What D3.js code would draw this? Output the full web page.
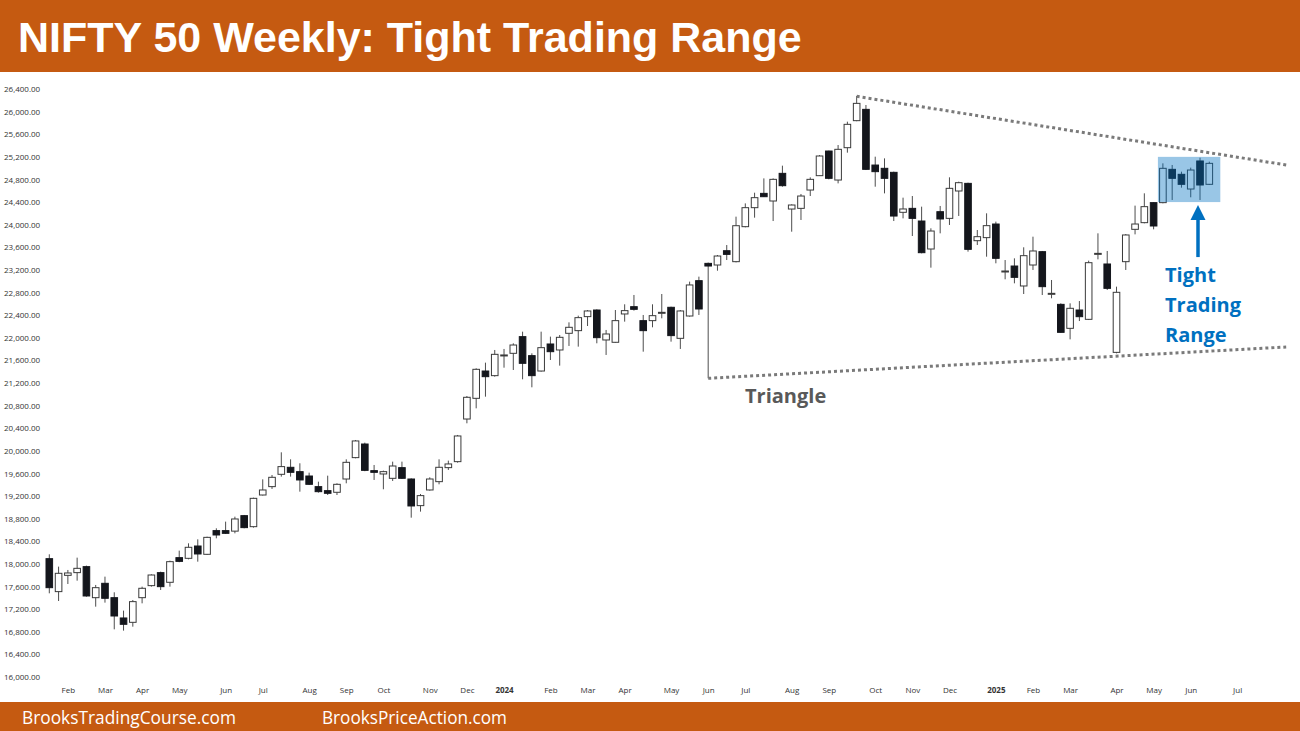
<!DOCTYPE html>
<html>
<head>
<meta charset="utf-8">
<script src="https://cdn.jsdelivr.net/npm/d3@7"></script>
<style>
  body { margin: 0; background: #fff; }
  svg { display: block; }
</style>
</head>
<body>
<div class="chart-container"></div>
<script>
// weekly candles, first bar = week of 23 Jan 2023
const first_week = '2023-01-23';
const opens = [
  18093,17510,17798,17846,17952,17403,17657,17403,17044,16967,17403,17616,17846,17675,18111,18099,18317,18170,18589,18589,
  18580,18854,18659,19219,19367,19585,19709,19632,19555,19367,19296,19267,19502,19880,20121,19650,19591,19514,19703,19502,
  19031,19308,19455,19703,19809,20563,20929,21412,21330,21684,21725,22020,21684,21412,21890,21784,22079,22126,22374,22491,
  21961,21920,22421,22550,22303,22303,22438,22539,21990,22385,23010,23316,23287,23540,23346,23965,24301,24554,24419,24908,
  24277,24289,24613,24867,25303,24790,25362,25840,26040,25055,24997,24926,24219,24289,24065,23570,24230,24112,24596,24731,
  23717,23771,24012,23169,23269,22916,23287,23523,22774,22591,22167,22491,22326,23482,23305,21742,23346,23918,24036,24390,
  24390,24979,24891,24631,25127,24714
];
const highs = [
  18170,17952,17893,18111,17970,17628,17775,17498,17174,17362,17598,17816,17863,18058,18235,18364,18435,18482,18630,18748,
  18836,18866,19172,19496,19573,19974,19850,19780,19614,19455,19561,19426,19850,20192,20145,19750,19650,19809,19809,19514,
  19237,19532,19850,19827,20281,20970,21460,21560,21784,21802,21902,22108,21725,22108,22020,22049,22273,22391,22491,22503,
  22138,22491,22592,22757,22403,22592,22774,22550,22491,22993,23081,23330,23464,23640,24142,24377,24566,24819,24819,25044,
  24360,24543,24837,25232,25309,25409,25822,26276,26117,25203,25173,24938,24478,24507,24319,23936,24331,24838,24761,24743,
  23906,24201,24054,23375,23405,23600,23788,23535,23022,22609,22609,22650,23364,23847,23535,22904,23835,24337,24555,24396,
  25085,25056,24938,25009,25185,25115
];
const lows = [
  17480,17344,17645,17704,17420,17244,17315,16843,16820,16890,17303,17598,17539,17598,18030,18081,18040,18160,18453,18530,
  18541,18630,18642,19210,19326,19544,19544,19278,19396,19261,19219,19219,19426,19868,19640,19485,19320,19467,19502,18818,
  18925,19296,19408,19662,19791,20487,20752,20958,21312,21471,21430,21265,21124,21401,21607,21507,21855,21843,22208,21902,
  21696,21914,22285,22480,21754,22185,22344,21931,21802,22374,22403,21283,23186,23375,23334,23953,24124,24490,24065,24672,
  23876,24083,24507,24861,24802,24731,25274,25830,24967,24672,24554,24065,24112,23800,23493,23240,23847,23995,24154,23523,
  23641,23434,23317,23034,22963,22774,23199,22756,22698,22090,21972,22296,22314,23387,22845,21725,23199,23829,24024,23918,
  24378,24437,24655,24484,24437,24702
];
const closes = [
  17580,17834,17840,17922,17433,17580,17392,17079,16932,17333,17569,17804,17598,18040,18045,18294,18176,18470,18512,18541,
  18795,18642,19160,19308,19532,19721,19620,19485,19408,19278,19249,19408,19797,20175,19655,19620,19632,19732,19514,19025,
  19208,19502,19709,19768,20263,20947,21442,21312,21707,21696,21872,21548,21330,21825,21754,22008,22185,22356,22474,22002,
  22067,22303,22480,22503,22126,22391,22450,22038,22474,22934,22509,23269,23446,23475,23982,24301,24478,24495,24802,24690,
  24348,24507,24802,25215,24820,25333,25775,26146,24979,24938,24820,24153,24278,24112,23505,23888,24101,24643,24743,23564,
  23788,23983,23405,23181,23069,23452,23535,22904,22786,22096,22521,22373,23328,23493,22874,22804,23818,24012,24319,23977,
  24997,24820,24714,24967,24702,25085
];
const y_ticks = [16000,16400,16800,17200,17600,18000,18400,18800,19200,19600,20000,20400,20800,21200,21600,
  22000,22400,22800,23200,23600,24000,24400,24800,25200,25600,26000,26400];
// trend lines of the triangle: [date, price]
const upper_line = [['2024-09-23', 26270], ['2025-08-13', 25056]];
const lower_line = [['2024-06-03', 21283], ['2025-08-13', 21837]];
// tight trading range box
const range_box = { from: '2025-05-12', to: '2025-06-16', hi: 25200, lo: 24400 };

const parseDate = d3.timeParse('%Y-%m-%d');
const start = parseDate(first_week);
const candles = opens.map((o, i) => ({
  date: d3.timeMonday.offset(start, i),
  open: o, high: highs[i], low: lows[i], close: closes[i]
}));

const svg_width = 1300;
const svg_height = 731;
const svg = d3.select('.chart-container')
  .append('svg')
  .attr('width', svg_width)
  .attr('height', svg_height)
  .style('font-family', '"Open Sans", "Noto Sans", sans-serif');

// scales
const xScale = d3.scaleTime()
  .domain([start, candles[candles.length - 1].date])
  .range([49.3, 1209.3]);
const yScale = d3.scaleLinear([16000, 26400], [677, 89]);
const bar_w = 6.6;

// header + footer bands
const orange = '#C55A11';
svg.append('rect').attr('x', 0).attr('y', 0).attr('width', svg_width).attr('height', 72).attr('fill', orange);
svg.append('text')
  .attr('x', 18).attr('y', 52)
  .style('font-family', '"Liberation Sans", Arial, sans-serif')
  .style('font-weight', 'bold')
  .style('font-size', '43px')
  .style('fill', '#fff')
  .text('NIFTY 50 Weekly: Tight Trading Range');
svg.append('rect').attr('x', 0).attr('y', 702).attr('width', svg_width).attr('height', 29).attr('fill', orange);
const footer = svg.append('g').style('fill', '#fff').style('font-size', '19px');
footer.append('text').attr('x', 22).attr('y', 724)
  .attr('textLength', 214).attr('lengthAdjust', 'spacingAndGlyphs')
  .text('BrooksTradingCourse.com');
footer.append('text').attr('x', 322).attr('y', 724)
  .attr('textLength', 185).attr('lengthAdjust', 'spacingAndGlyphs')
  .text('BrooksPriceAction.com');

// y axis, labels only
const yAxisDraw = svg.append('g')
  .attr('class', 'y axis')
  .attr('transform', 'translate(4,0)')
  .call(d3.axisRight(yScale).tickValues(y_ticks).tickSize(0).tickPadding(0)
    .tickFormat(d3.format(',.2f')));
yAxisDraw.select('.domain').remove();
yAxisDraw.selectAll('text')
  .style('font-family', '"Open Sans", sans-serif')
  .style('font-size', '8px')
  .style('fill', '#333');

// x axis: label at first Monday of every month
const month_ticks = d3.timeMonth.range(new Date(2023, 1, 1), new Date(2025, 7, 1))
  .map(m => d3.timeMonday.ceil(m));
const xAxisDraw = svg.append('g')
  .attr('class', 'x axis')
  .attr('transform', 'translate(0,684)')
  .call(d3.axisBottom(xScale).tickValues(month_ticks).tickSize(0).tickPadding(3)
    .tickFormat(d => d.getMonth() === 0 ? d3.timeFormat('%Y')(d) : d3.timeFormat('%b')(d)));
xAxisDraw.select('.domain').remove();
xAxisDraw.selectAll('text')
  .style('font-family', '"Open Sans", sans-serif')
  .style('font-size', '8px')
  .style('fill', '#333')
  .style('font-weight', d => d.getMonth() === 0 ? 'bold' : 'normal');

// candles
const g = svg.append('g').attr('class', 'candles');
g.selectAll('.wick')
  .data(candles)
  .join('line')
  .attr('class', 'wick')
  .attr('x1', d => xScale(d.date)).attr('x2', d => xScale(d.date))
  .attr('y1', d => yScale(d.high)).attr('y2', d => yScale(d.low))
  .attr('stroke', '#4d4d4d')
  .attr('stroke-width', 1);
g.selectAll('.body')
  .data(candles)
  .join('rect')
  .attr('class', 'body')
  .attr('x', d => xScale(d.date) - bar_w / 2)
  .attr('y', d => yScale(Math.max(d.open, d.close)))
  .attr('width', bar_w)
  .attr('height', d => Math.max(1, Math.abs(yScale(d.open) - yScale(d.close))))
  .attr('fill', d => d.close >= d.open ? '#fff' : '#14161c')
  .attr('stroke', d => d.close >= d.open ? '#3a3a3a' : '#14161c')
  .attr('stroke-width', 1);

// triangle
const line = d3.line().x(d => xScale(parseDate(d[0]))).y(d => yScale(d[1]));
[upper_line, lower_line].forEach(l => {
  svg.append('path')
    .attr('d', line(l))
    .attr('fill', 'none')
    .attr('stroke', '#7a7a7a')
    .attr('stroke-width', 3)
    .attr('stroke-dasharray', '3 3');
});
svg.append('text')
  .attr('x', 745).attr('y', 403)
  .style('font-weight', 'bold')
  .style('font-size', '20px')
  .style('fill', '#595959')
  .text('Triangle');

// tight trading range
const box_x0 = xScale(parseDate(range_box.from)) - 5;
const box_x1 = xScale(parseDate(range_box.to)) + 11;
svg.append('rect')
  .attr('x', box_x0)
  .attr('y', yScale(range_box.hi))
  .attr('width', box_x1 - box_x0)
  .attr('height', yScale(range_box.lo) - yScale(range_box.hi))
  .attr('fill', '#0070C0')
  .attr('fill-opacity', 0.4);

const blue = '#0070C0';
const arrow_x = 1198;
const arrow_top = yScale(range_box.lo) + 3;
svg.append('line')
  .attr('x1', arrow_x).attr('x2', arrow_x)
  .attr('y1', arrow_top + 12).attr('y2', arrow_top + 52)
  .attr('stroke', blue).attr('stroke-width', 3.5);
svg.append('path')
  .attr('d', `M${arrow_x},${arrow_top} L${arrow_x - 7.5},${arrow_top + 15} L${arrow_x + 7.5},${arrow_top + 15} Z`)
  .attr('fill', blue);
const label = svg.append('text')
  .style('font-weight', 'bold')
  .style('font-size', '20px')
  .style('fill', blue);
['Tight', 'Trading', 'Range'].forEach((t, i) => {
  label.append('tspan').attr('x', 1165).attr('y', 282 + i * 30).text(t);
});
</script>
</body>
</html>
